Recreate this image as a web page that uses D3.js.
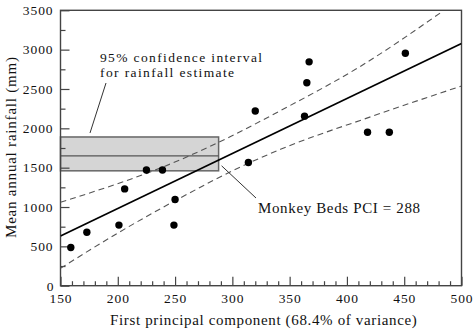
<!DOCTYPE html>
<html>
<head>
<meta charset="utf-8">
<script src="https://cdn.jsdelivr.net/npm/d3@7"></script>
<style>
  body { margin: 0; background: #fff; }
  text { font-family: "Liberation Serif", "Times New Roman", serif; fill: #111; }
</style>
</head>
<body>
<div id="chart"></div>
<script>
// sample scores on the first principal component and their rainfall
const pcScores = [159, 173, 201, 206, 225, 239, 250, 249, 314, 320, 363, 365, 367, 418, 437, 451];
const rainfall = [485, 680, 770, 1230, 1470, 1470, 1095, 770, 1565, 2220, 2155, 2580, 2845, 1950, 1950, 2955];

// regression line
const fitPC = [150, 500];
const fitRain = [632, 3078];

// 95% confidence band
const upperPC = [150, 254, 298, 342, 412, 483];
const upperRain = [1060, 1597, 1893, 2225, 2790, 3482];
const lowerPC = [150, 202, 254, 314, 342, 421, 500];
const lowerRain = [221, 686, 1111, 1556, 1733, 2148, 2538];

// estimate for Monkey Beds
const monkeyBedsPCI = 288;
const estimateLow = 1460, estimateFit = 1650, estimateHigh = 1890;

const xMajor = d3.range(150, 501, 50);
const xMinor = d3.range(150, 501, 10).filter(d => d % 50 !== 0);
const yMajor = d3.range(0, 3501, 500);
const yMinor = d3.range(250, 3500, 500);

const width = 474, height = 332;

// spread the letters of a text so it runs to the given width
function fitWidth(sel, target) {
    sel.each(function () {
        const n = this.textContent.length;
        const w = this.getComputedTextLength();
        if (n > 1) d3.select(this).style("letter-spacing", ((target - w) / (n - 1)).toFixed(2) + "px");
    });
}

const svg = d3.select("#chart").append("svg")
    .attr("width", width)
    .attr("height", height);

const x = d3.scaleLinear().domain([150, 500]).range([60.5, 461.5]);
const y = d3.scaleLinear().domain([0, 3500]).range([285.7, 10.3]);

svg.append("clipPath").attr("id", "plot-clip")
  .append("rect")
    .attr("x", x(150)).attr("y", y(3500))
    .attr("width", x(500) - x(150)).attr("height", y(0) - y(3500));

// shaded estimate box, from the axis out to the sample's score
svg.append("rect")
    .attr("x", x(150))
    .attr("y", y(estimateHigh))
    .attr("width", x(monkeyBedsPCI) - x(150))
    .attr("height", y(estimateLow) - y(estimateHigh))
    .attr("fill", "#d5d5d5")
    .attr("stroke", "#666")
    .attr("stroke-width", 1.5);

svg.append("line")
    .attr("x1", x(150)).attr("x2", x(monkeyBedsPCI))
    .attr("y1", y(estimateFit)).attr("y2", y(estimateFit))
    .attr("stroke", "#555")
    .attr("stroke-width", 1.3);

// axes: major ticks carry the labels, minor ones are shorter
const xAxisG = svg.append("g").attr("transform", `translate(0,${y(0)})`);
xAxisG.call(d3.axisBottom(x).tickValues(xMajor).tickSize(-9).tickPadding(8).tickFormat(d3.format("d")));
const xMinorG = svg.append("g").attr("transform", `translate(0,${y(0)})`);
xMinorG.call(d3.axisBottom(x).tickValues(xMinor).tickSize(-4.5).tickFormat(""));

const yAxisG = svg.append("g").attr("transform", `translate(${x(150)},0)`);
yAxisG.call(d3.axisLeft(y).tickValues(yMajor).tickSize(-9).tickPadding(7).tickFormat(d3.format("d")));
const yMinorG = svg.append("g").attr("transform", `translate(${x(150)},0)`);
yMinorG.call(d3.axisLeft(y).tickValues(yMinor).tickSize(-5).tickFormat(""));

svg.selectAll(".domain").remove();
svg.selectAll(".tick line").attr("stroke", "#444").attr("stroke-width", 1.2);
svg.selectAll(".tick text")
    .style("font-family", "'Liberation Serif', 'Times New Roman', serif")
    .style("font-size", "13.5px")
    .attr("fill", "#111")
    .each(function () { fitWidth(d3.select(this), 7.7 * this.textContent.length - 1); });

// plot frame
svg.append("rect")
    .attr("x", x(150)).attr("y", y(3500))
    .attr("width", x(500) - x(150)).attr("height", y(0) - y(3500))
    .attr("fill", "none")
    .attr("stroke", "#444")
    .attr("stroke-width", 1.4);

const plot = svg.append("g").attr("clip-path", "url(#plot-clip)");

const band = d3.line()
    .x(d => x(d[0]))
    .y(d => y(d[1]))
    .curve(d3.curveMonotoneX);

plot.append("path")
    .datum(d3.zip(upperPC, upperRain))
    .attr("d", band)
    .attr("fill", "none")
    .attr("stroke", "#555")
    .attr("stroke-width", 1.1)
    .attr("stroke-dasharray", "6,4");

plot.append("path")
    .datum(d3.zip(lowerPC, lowerRain))
    .attr("d", band)
    .attr("fill", "none")
    .attr("stroke", "#555")
    .attr("stroke-width", 1.1)
    .attr("stroke-dasharray", "6,4");

plot.append("path")
    .datum(d3.zip(fitPC, fitRain))
    .attr("d", d3.line().x(d => x(d[0])).y(d => y(d[1])))
    .attr("fill", "none")
    .attr("stroke", "#000")
    .attr("stroke-width", 1.7);

plot.selectAll(".dot")
    .data(d3.zip(pcScores, rainfall))
    .join("circle")
    .attr("class", "dot")
    .attr("cx", d => x(d[0]))
    .attr("cy", d => y(d[1]))
    .attr("r", 3.7)
    .attr("fill", "#000");

// annotations
svg.append("line")
    .attr("x1", 90).attr("y1", y(estimateHigh) - 4)
    .attr("x2", 106).attr("y2", 83)
    .attr("stroke", "#333").attr("stroke-width", 1);

const ciLabel = svg.append("text")
    .attr("x", 100).attr("y", 62)
    .style("font-size", "13.5px");
const ciLine1 = ciLabel.append("tspan").attr("x", 100).text("95% confidence interval");
const ciLine2 = ciLabel.append("tspan").attr("x", 100).attr("dy", 15).text("for rainfall estimate");
fitWidth(ciLine1, 162);
fitWidth(ciLine2, 134);

svg.append("line")
    .attr("x1", x(monkeyBedsPCI) + 3).attr("y1", y(estimateLow) - 5)
    .attr("x2", 256).attr("y2", 198)
    .attr("stroke", "#333").attr("stroke-width", 1);

svg.append("text").attr("x", 258).attr("y", 213)
    .style("font-size", "15px")
    .text("Monkey Beds PCI = 288")
    .call(fitWidth, 162);

svg.append("text")
    .attr("x", 110).attr("y", 325)
    .style("font-size", "15px")
    .text("First principal component (68.4% of variance)")
    .call(fitWidth, 307);

svg.append("text")
    .attr("transform", "translate(15.5,238) rotate(-90)")
    .style("font-size", "15px")
    .text("Mean annual rainfall (mm)")
    .call(fitWidth, 181);
</script>
</body>
</html>
